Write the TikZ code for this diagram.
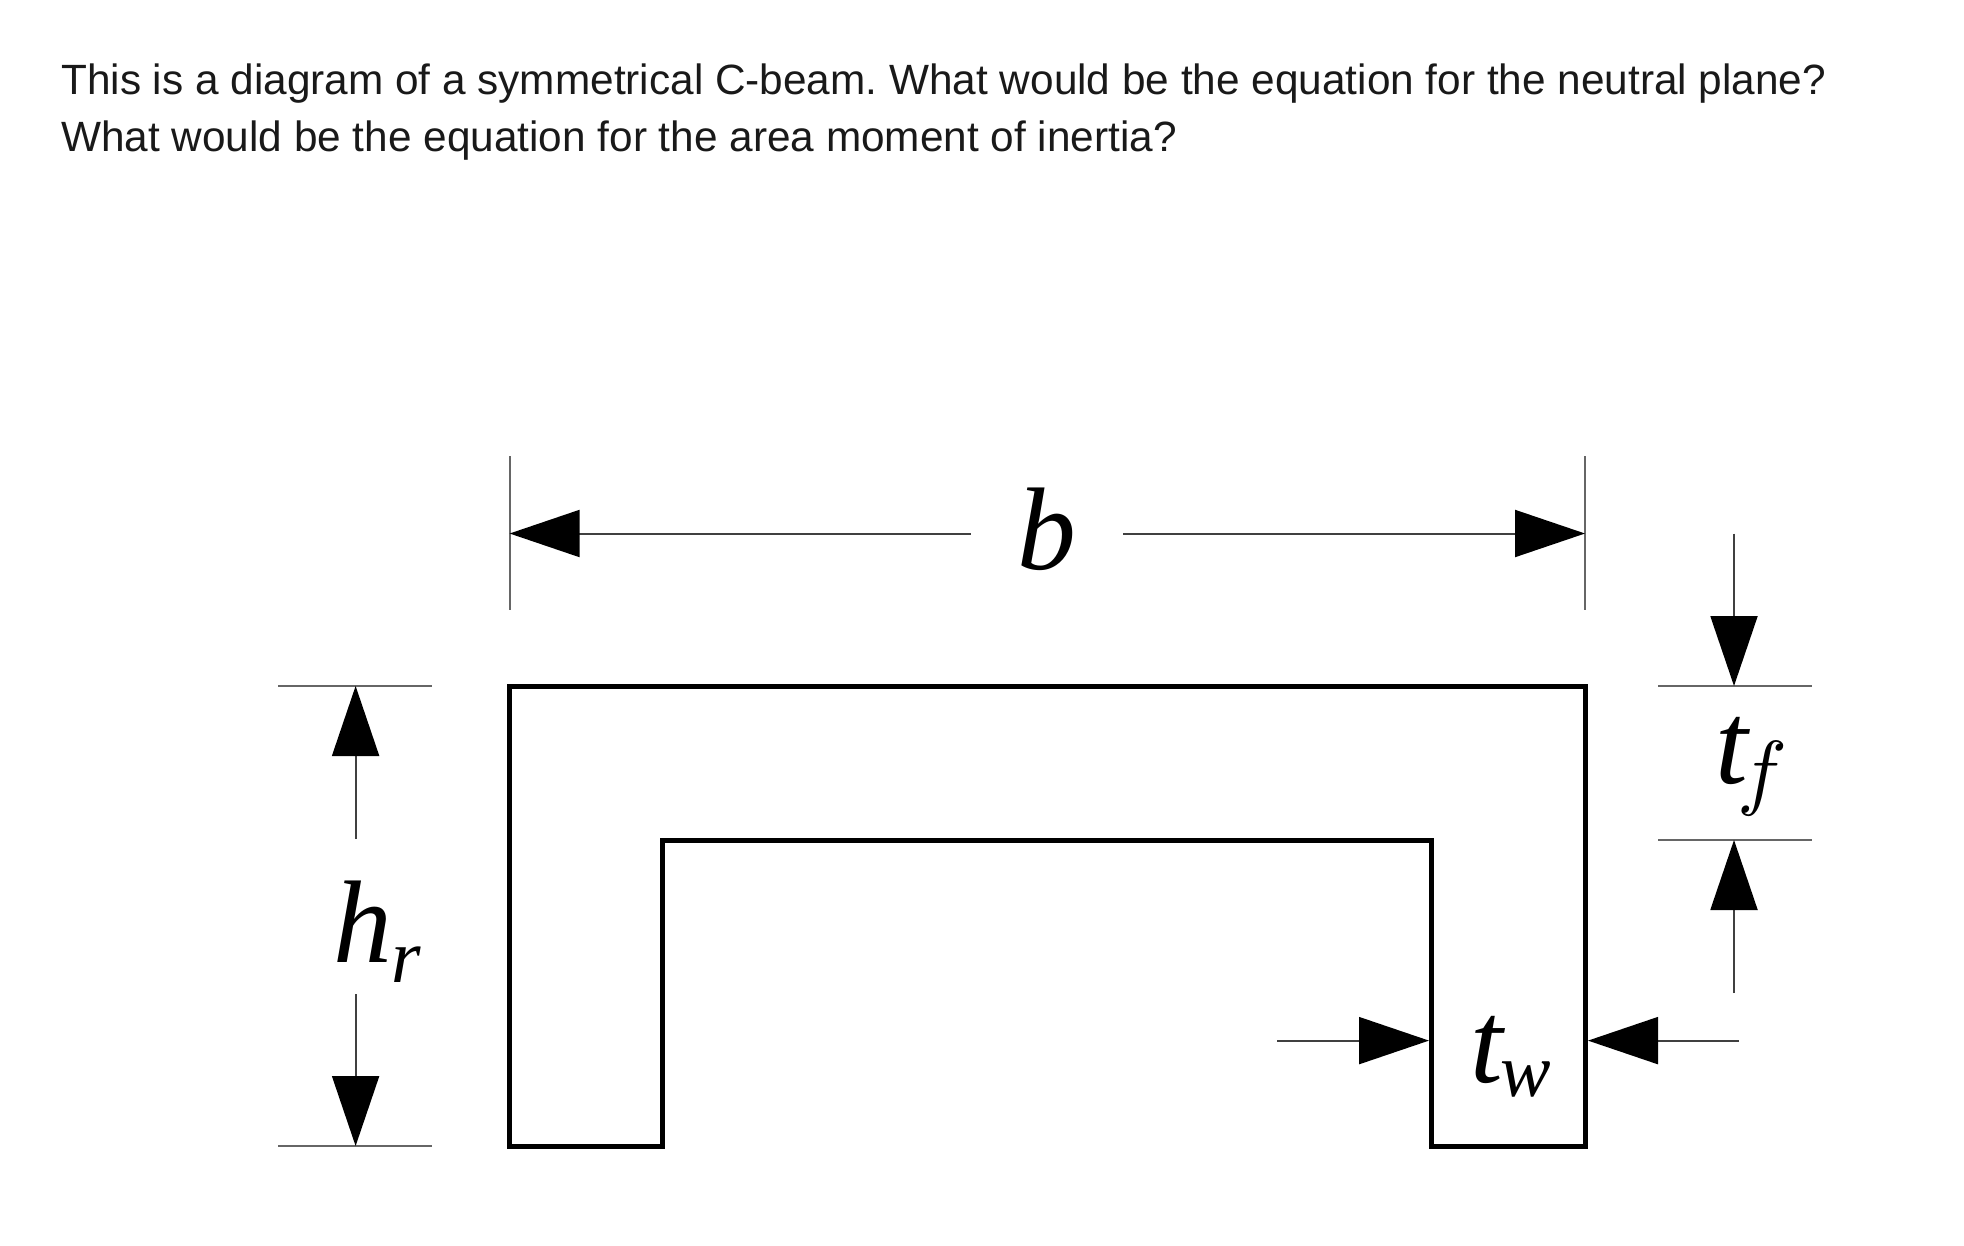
\documentclass[tikz,border=0pt]{standalone}
\usepackage{fontspec}
\usetikzlibrary{arrows.meta}
\setmainfont{Liberation Sans}
\newfontfamily\labfont{Liberation Serif}
\tikzset{
  x=1bp,y=-1bp,
  beam/.style={line width=5bp,black,line join=miter},
  extline/.style={line width=2bp,black!60},
  dimline/.style={line width=2bp,black!75,-{Triangle[length=70bp,width=47bp,fill=black,color=black]}},
  prose/.style={anchor=base west,inner sep=0pt,font=\fontsize{42.5}{42.5}\selectfont\frenchspacing,text=black!90},
  symb/.style={anchor=base west,inner sep=0pt,font=\labfont\itshape\fontsize{118}{118}\selectfont},
  subs/.style={anchor=base west,inner sep=0pt,font=\labfont\itshape\fontsize{76}{76}\selectfont},
  subsf/.style={anchor=base west,inner sep=0pt,scale=8.4}
}
\begin{document}
\begin{tikzpicture}
\useasboundingbox (0,0) rectangle (1964,1245);
\fill[white] (0,0) rectangle (1964,1245);
\node[prose] (line1) at (61,94.5) {This is a diagram of a symmetrical C-beam. What would be the equation for the neutral plane?};
\node[prose] (line2) at (61,151.5) {What would be the equation for the area moment of inertia?};
% beam
\draw[beam] (509.6,686) -- (1585,686) -- (1585,1146) -- (1431,1146) -- (1431,840) -- (662.4,840) -- (662.4,1146) -- (509.6,1146) -- cycle;
% coordinates
\coordinate (bL) at (509.6,533.5);
\coordinate (bR) at (1585,533.5);
\coordinate (hT) at (355.6,686);
\coordinate (hB) at (355.6,1146);
\coordinate (fT) at (1734,686);
\coordinate (fB) at (1734,840);
\coordinate (wL) at (1429,1040.6);
\coordinate (wR) at (1588,1040.6);
% extension lines
\draw[extline] (509.6,456) -- (509.6,610);
\draw[extline] (1585,456) -- (1585,610);
\draw[extline] (278,686) -- (432,686);
\draw[extline] (278,1146) -- (432,1146);
\draw[extline] (1658,686) -- (1812,686);
\draw[extline] (1658,840) -- (1812,840);
% labels
\node[symb] (b) at (1017.5,569) {b};
\node[symb] (h) at (333,962) {h};
\node[subs] (r) at (391,982) {r};
\node[symb] (tf) at (1715,783) {t};
\node[subsf] (f) at (1736,799) {$f$};
\node[symb] (tw) at (1470,1082) {t};
\node[subs] (w) at (1500,1096) {w};
% free ends
\coordinate (b1) at (970.5,533.5);
\coordinate (b2) at (1123,533.5);
\coordinate (h1) at (355.6,839);
\coordinate (h2) at (355.6,994);
\coordinate (f1) at (1734,533.5);
\coordinate (f2) at (1734,993);
\coordinate (w1) at (1277,1040.6);
\coordinate (w2) at (1739,1040.6);
% connectors
\draw[dimline] (b1) -- (bL);
\draw[dimline] (b2) -- (bR);
\draw[dimline] (h1) -- (hT);
\draw[dimline] (h2) -- (hB);
\draw[dimline] (f1) -- (fT);
\draw[dimline] (f2) -- (fB);
\draw[dimline] (w1) -- (wL);
\draw[dimline] (w2) -- (wR);
\end{tikzpicture}
\end{document}
